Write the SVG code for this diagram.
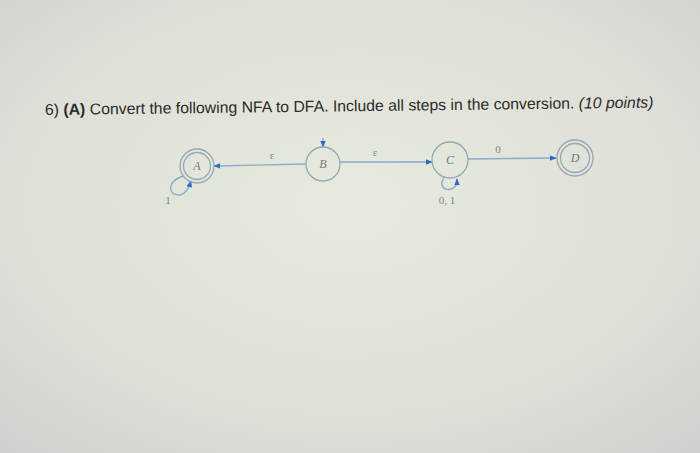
<svg xmlns="http://www.w3.org/2000/svg" width="700" height="453" viewBox="0 0 700 453">
<defs>
<radialGradient id="bg" cx="0.5" cy="0.45" r="0.75">
<stop offset="0" stop-color="#e6eadc"/>
<stop offset="0.6" stop-color="#dfe0d8"/>
<stop offset="1" stop-color="#cfd0cc"/>
</radialGradient>
<marker id="ah" viewBox="0 0 10 10" refX="9" refY="5" markerWidth="7" markerHeight="7" orient="auto" markerUnits="userSpaceOnUse">
<path d="M0,1 L10,5 L0,9 Z" fill="#2a6cc0"/>
</marker>
<style>
.st{fill:none;stroke:#95a8b6;stroke-width:1.3}
.ed{fill:none;stroke:#8aaccb;stroke-width:1.4}
.nl{font-family:"Liberation Serif",serif;font-style:italic;font-size:12px;fill:#6f7c86;text-anchor:middle}
.el{font-family:"Liberation Serif",serif;font-size:11px;fill:#7d8790;text-anchor:middle}
.ti{font-family:"Liberation Sans",Arial,sans-serif;font-size:15.8px;fill:#2d2b2b}
</style>
</defs>
<rect width="700" height="453" fill="url(#bg)"/>
<text class="ti" x="45" y="115" transform="rotate(-0.7 45 115)">6) <tspan font-weight="bold">(A)</tspan> Convert the following NFA to DFA. Include all steps in the conversion. <tspan font-style="italic">(10 points)</tspan></text>
<g id="edges">
<line class="ed" x1="306" y1="164" x2="214" y2="166" marker-end="url(#ah)"/>
<text class="el" x="272" y="159">ε</text>
<path class="ed" d="M183,176 C166,182 168,196 180,195 C186,194 189,188 191,181" marker-end="url(#ah)"/>
<text class="el" x="168" y="204">1</text>
<line class="ed" x1="323" y1="138" x2="323" y2="147" marker-end="url(#ah)"/>
<line class="ed" x1="340" y1="162" x2="432" y2="162" marker-end="url(#ah)"/>
<text class="el" x="375" y="156">ε</text>
<path class="ed" d="M444,177 C436,191 453,193 457,184 L457,179" marker-end="url(#ah)"/>
<text class="el" x="447" y="204">0, 1</text>
<line class="ed" x1="468" y1="159" x2="556" y2="158" marker-end="url(#ah)"/>
<text class="el" x="498" y="153">0</text>
</g>
<g id="A">
<circle class="st" cx="197" cy="166" r="17"/>
<circle class="st" cx="197" cy="166" r="13.5"/>
<text class="nl" x="197" y="170">A</text>
</g>
<g id="B">
<circle class="st" cx="323" cy="164" r="17"/>
<text class="nl" x="323" y="168">B</text>
</g>
<g id="C">
<circle class="st" cx="450" cy="160" r="18"/>
<text class="nl" x="450" y="164">C</text>
</g>
<g id="D">
<circle class="st" cx="575" cy="158" r="18"/>
<circle class="st" cx="575" cy="158" r="14.5"/>
<text class="nl" x="575" y="162">D</text>
</g>
</svg>
